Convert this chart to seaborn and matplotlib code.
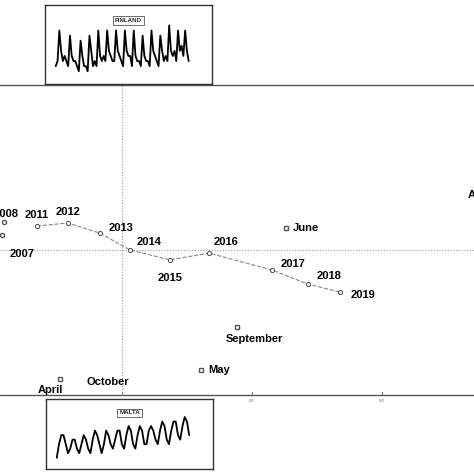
import matplotlib
matplotlib.use("Agg")
import matplotlib.pyplot as plt
import seaborn as sns
import pandas as pd

sns.set_style("white")
plt.rcParams['font.family'] = ['Liberation Sans', 'DejaVu Sans']

years = ["2008", "2007", "2011", "2012", "2013", "2014", "2015", "2016", "2017", "2018", "2019"]
year_x = [-0.455, -0.46, -0.327, -0.208, -0.085, 0.031, 0.185, 0.335, 0.577, 0.715, 0.838]
year_y = [0.108, 0.058, 0.092, 0.104, 0.065, 0.0, -0.038, -0.012, -0.077, -0.131, -0.162]
months = ["June", "September", "May", "April", "October", "August"]
month_x = [0.631, 0.442, 0.304, -0.238, -0.015, 1.33]
month_y = [0.085, -0.296, -0.462, -0.496, -0.54, 0.21]
finland = [2, 3, 9, 5, 3, 4, 3, 2, 8, 4, 3, 3, 2, 1, 7, 4, 2, 2, 1, 8, 5, 2, 3, 2, 9, 4, 3, 4, 3, 9, 5, 4, 3, 3, 9, 5, 4, 3, 2,
           9, 5, 4, 4, 2, 9, 4, 3, 3, 2, 8, 4, 3, 3, 2, 9, 5, 4, 3, 2, 8, 5, 3, 4, 3, 10, 5, 4, 5, 3, 9, 5, 6, 4, 9, 5, 3]
malta = [1, 4, 6, 6, 4, 2, 3, 5, 5, 3, 2, 4, 6, 5, 3, 2, 5, 7, 6, 4, 2, 4, 7, 6, 4, 3, 5, 7, 7, 4, 3, 6, 8, 7, 4, 3, 6, 8, 7, 4,
         4, 7, 8, 7, 5, 4, 7, 9, 8, 5, 4, 7, 9, 9, 6, 5, 8, 10, 9, 6]

fig = plt.figure(figsize=(4.74, 4.74), dpi=100)
ax = fig.add_axes([0, 0, 1, 1])
ax.set_xlim(-0.469, 1.354)
ax.set_ylim(-0.862, 0.962)
ax.axis("off")

ax.axhline(0.635, color="#555555", lw=1)
ax.plot([-0.469, 1.354], [-0.558, -0.558], color="#555555", lw=1)
for t, lab in [(0, "0"), (0.5, "2.5"), (1.0, "5.0")]:
    ax.plot([t, t], [-0.558, -0.548], color="#555555", lw=0.6)
    ax.text(t, -0.575, lab, fontsize=3, ha="center", va="top", color="#555555")
ax.plot([0, 0], [-0.558, 0.635], color="#999999", lw=0.8, ls=(0, (1, 1.5)))
ax.axhline(0, color="#999999", lw=0.8, ls=(0, (1, 1.5)))

line_df = pd.DataFrame({"x": year_x[2:], "y": year_y[2:]})
sns.lineplot(data=line_df, x="x", y="y", ax=ax, color="#888888", lw=0.8, ls="--",
             marker="o", markersize=3, markerfacecolor="white", markeredgecolor="#555555", sort=False)
ax.plot(year_x[:2], year_y[:2], "o", ms=3, mfc="white", mec="#555555")
offs = {"2008": (2, 6, "center"), "2007": (14, -14, "center"), "2011": (0, 8, "center"),
        "2012": (0, 8, "center"), "2013": (6, 4, "left"), "2014": (5, 6, "left"),
        "2015": (0, -13, "center"), "2016": (3, 8, "left"), "2017": (6, 4, "left"),
        "2018": (6, 6, "left"), "2019": (8, -2, "left")}
for lab, x, y in zip(years, year_x, year_y):
    dx, dy, ha = offs[lab]
    ax.annotate(lab, (x, y), xytext=(dx, dy), textcoords="offset points", fontsize=8,
                fontweight="bold", ha=ha, va="center", color="black")

ax.plot(month_x[:4], month_y[:4], "s", ms=2.5, mfc="white", mec="#555555")
moffs = {"June": (5, 0, "left"), "September": (-8, -9, "left"), "May": (5, 0, "left"),
         "April": (-16, -8, "left"), "October": (-23, 6, "left"), "August": (0, 0, "left")}
for lab, x, y in zip(months, month_x, month_y):
    dx, dy, ha = moffs[lab]
    ax.annotate(lab, (x, y), xytext=(dx, dy), textcoords="offset points", fontsize=8,
                fontweight="bold", ha=ha, va="center", color="black")

def inset(rect, vals, title, ylo, yhi):
    a = fig.add_axes(rect)
    sns.lineplot(x=list(range(len(vals))), y=vals, ax=a, color="black", lw=1.3)
    n = len(vals)
    a.set_xlim(-0.08 * n, n * 1.16)
    a.set_ylim(ylo, yhi)
    a.set_xticks([]); a.set_yticks([])
    a.set_xlabel(""); a.set_ylabel("")
    for s in a.spines.values():
        s.set_color("#333333"); s.set_linewidth(1)
    a.text(0.5, 0.8, title, transform=a.transAxes, ha="center", va="center", fontsize=4.5,
           fontweight="bold", bbox=dict(boxstyle="square,pad=0.3", fc="white", ec="#555555", lw=0.6))

inset([45/474, 1 - 84/474, 167/474, 79/474], finland, "FINLAND", -1.5, 14)
inset([46/474, 1 - 469/474, 167/474, 70/474], malta, "MALTA", -1.5, 14)

fig.savefig("out.png", dpi=100)
